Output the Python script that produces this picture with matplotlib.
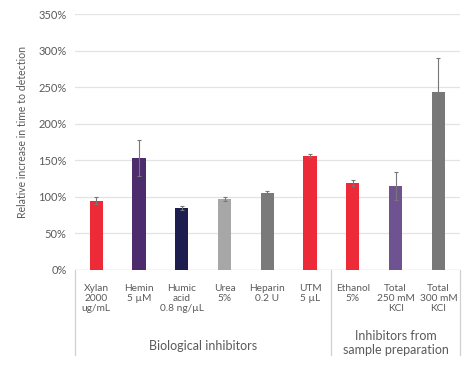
import matplotlib.pyplot as plt
import numpy as np

# Data
labels = ['Xylan\n2000\nug/mL', 'Hemin\n5 µM', 'Humic\nacid\n0.8 ng/µL', 'Urea\n5%',
          'Heparin\n0.2 U', 'UTM\n5 µL', 'Ethanol\n5%', 'Total\n250 mM\nKCl', 'Total\n300 mM\nKCl']
values = [95, 153, 85, 97, 105.5, 156, 119.5, 115, 243]
errors = [5, 25, 3, 3, 2, 2, 4, 19, 47]
colors = ['#ED2A37', '#4D2C6D', '#1D1D4F', '#A7A7A7', '#7A7A7A',
          '#ED2A37', '#ED2A37', '#6F5390', '#787878']
groups = ['Biological inhibitors', 'Inhibitors from\nsample preparation']
group_spans = [(-0.5, 5.5), (5.5, 8.5)]

plt.rcParams['font.family'] = ['Lato', 'DejaVu Sans']
text_col = '#5A5A5A'

fig = plt.figure(figsize=(4.74, 3.65), dpi=100)
ax = fig.add_axes([0.158, 0.2603, 0.812, 0.7013])

x = np.arange(len(values))
ax.bar(x, np.array(values) / 100, width=0.31, color=colors, zorder=3)
ax.errorbar(x, np.array(values) / 100, yerr=np.array(errors) / 100, fmt='none',
            ecolor='#777777', elinewidth=0.8, capsize=1.2, capthick=0.8, zorder=4)

ax.set_xlim(-0.5, 8.5)
ax.set_ylim(0, 3.5)
ax.set_yticks(np.arange(0, 3.51, 0.5))
ax.set_yticklabels([f'{int(t * 100)}%' for t in np.arange(0, 3.51, 0.5)])
ax.grid(axis='y', color='#E3E3E3', linewidth=0.9, zorder=0)
ax.set_axisbelow(True)
for s in ['top', 'right', 'left', 'bottom']:
    ax.spines[s].set_visible(False)
ax.tick_params(axis='y', length=0, pad=6, labelsize=8, labelcolor=text_col)
ax.set_xticks([])
ax.axhline(0, color='#D0D0D0', linewidth=0.9, zorder=2)

ax.set_ylabel('Relative increase in time to detection', fontsize=7.6,
              color=text_col)
ax.yaxis.set_label_coords(-0.122, 0.54)

trans = ax.get_xaxis_transform()
for i, lab in enumerate(labels):
    ax.text(i, -0.055, lab, transform=trans, ha='center', va='top',
            fontsize=7.3, color=text_col, linespacing=1.15)

# group bracket lines
for xv in [-0.5, 5.5, 8.5]:
    ax.plot([xv, xv], [0, -0.332], transform=trans, color='#D0D0D0',
            linewidth=0.9, clip_on=False)
for (a, b), g in zip(group_spans, groups):
    ax.text((a + b) / 2, -0.295 if '\n' not in g else -0.285, g, transform=trans,
            ha='center', va='center', fontsize=9, color=text_col, linespacing=1.2)

fig.savefig('out.png', dpi=100)
